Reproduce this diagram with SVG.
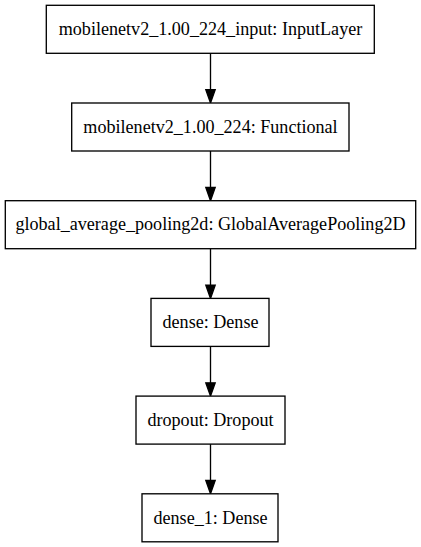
<svg xmlns="http://www.w3.org/2000/svg" width="421" height="547" viewBox="0 0 421 547">
<defs>
<style>
.box{fill:#fff;stroke:#000;stroke-width:1.33}
.lbl{font-family:"Liberation Serif","Times New Roman",serif;font-size:18.1px;fill:#000;text-anchor:middle}
.edge{stroke:#000;stroke-width:1.33;fill:none}
.head{fill:#000;stroke:#000;stroke-width:1.33}
</style>
</defs>
<rect width="421" height="547" fill="#fff"/>
<g id="connectors">
<line class="edge" x1="210.5" y1="53.3" x2="210.5" y2="90"/>
<polygon class="head" points="205.8,89.7 215.2,89.7 210.5,103"/>
<line class="edge" x1="210.5" y1="151" x2="210.5" y2="187.7"/>
<polygon class="head" points="205.8,187.4 215.2,187.4 210.5,200.7"/>
<line class="edge" x1="210.5" y1="248.7" x2="210.5" y2="285.4"/>
<polygon class="head" points="205.8,285.1 215.2,285.1 210.5,298.4"/>
<line class="edge" x1="210.5" y1="346.4" x2="210.5" y2="383.1"/>
<polygon class="head" points="205.8,382.8 215.2,382.8 210.5,396.1"/>
<line class="edge" x1="210.5" y1="444.1" x2="210.5" y2="480.8"/>
<polygon class="head" points="205.8,480.5 215.2,480.5 210.5,493.8"/>
</g>
<g id="node1">
<rect class="box" x="46.3" y="5.3" width="328" height="48"/>
<text class="lbl" x="210.5" y="35">mobilenetv2_1.00_224_input: InputLayer</text>
</g>
<g id="node2">
<rect class="box" x="71.7" y="103" width="277.3" height="48"/>
<text class="lbl" x="210.5" y="132.7">mobilenetv2_1.00_224: Functional</text>
</g>
<g id="node3">
<rect class="box" x="5.3" y="200.7" width="410.4" height="48"/>
<text class="lbl" x="210.5" y="230.4">global_average_pooling2d: GlobalAveragePooling2D</text>
</g>
<g id="node4">
<rect class="box" x="151" y="298.4" width="118" height="48"/>
<text class="lbl" x="210.5" y="328.1">dense: Dense</text>
</g>
<g id="node5">
<rect class="box" x="136" y="396.1" width="149" height="48"/>
<text class="lbl" x="210.5" y="425.8">dropout: Dropout</text>
</g>
<g id="node6">
<rect class="box" x="142" y="493.8" width="136" height="48"/>
<text class="lbl" x="210.5" y="523.5">dense_1: Dense</text>
</g>
</svg>
